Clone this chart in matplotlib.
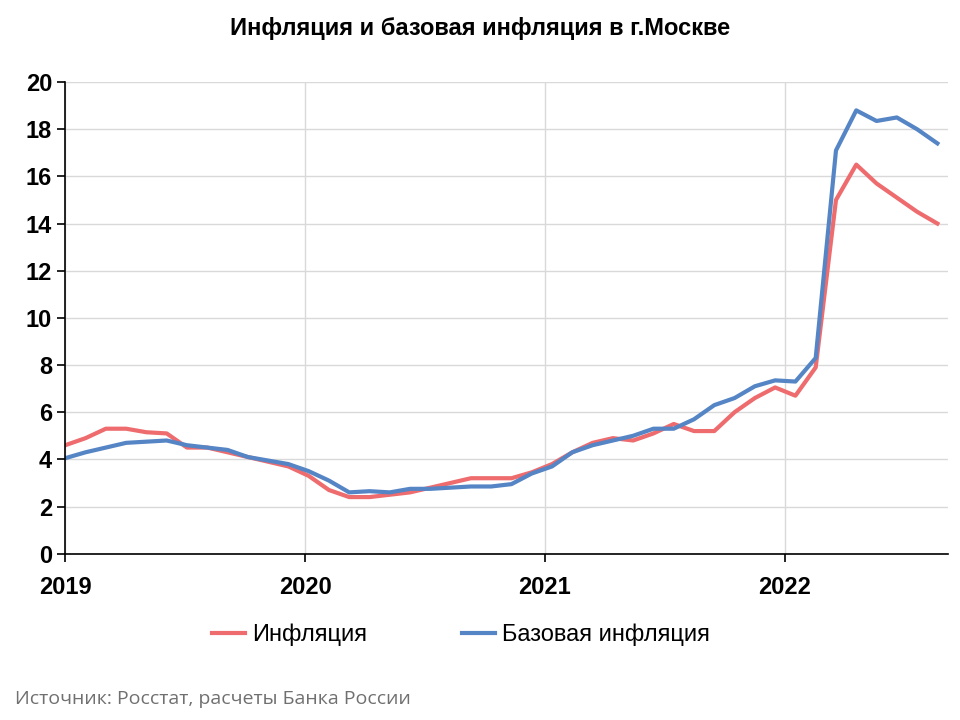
import matplotlib
matplotlib.use("Agg")
import matplotlib.pyplot as plt
import numpy as np

# monthly values, Jan 2019 - Aug 2022
inflation = [4.6, 4.9, 5.3, 5.3, 5.15, 5.1, 4.5, 4.5, 4.3, 4.1, 3.9, 3.7,
             3.3, 2.7, 2.4, 2.4, 2.5, 2.6, 2.8, 3.0, 3.2, 3.2, 3.2, 3.45,
             3.8, 4.3, 4.7, 4.9, 4.8, 5.1, 5.5, 5.2, 5.2, 6.0, 6.6, 7.05,
             6.7, 7.9, 15.0, 16.5, 15.7, 15.1, 14.5, 14.0]
core_inflation = [4.05, 4.3, 4.5, 4.7, 4.75, 4.8, 4.6, 4.5, 4.4, 4.1, 3.95, 3.8,
                  3.5, 3.1, 2.6, 2.65, 2.6, 2.75, 2.75, 2.8, 2.85, 2.85, 2.95, 3.4,
                  3.7, 4.3, 4.6, 4.8, 5.0, 5.3, 5.3, 5.7, 6.3, 6.6, 7.1, 7.35,
                  7.3, 8.3, 17.1, 18.8, 18.35, 18.5, 18.0, 17.4]
year_labels = ["2019", "2020", "2021", "2022"]
year_pos = [0, 12, 24, 36]

plt.rcParams["font.family"] = "Liberation Sans"

fig = plt.figure(figsize=(9.6, 7.2), dpi=100)
ax = fig.add_axes([0.068, 0.231, 0.92, 0.655])

x = np.arange(len(inflation)) * 1.015
ax.plot(x, inflation, color="#EE6B6E", lw=3, label="Инфляция", solid_joinstyle="round")
ax.plot(x, core_inflation, color="#5585C5", lw=3, label="Базовая инфляция", solid_joinstyle="round")

ax.set_xlim(0, 44.2)
ax.set_ylim(0, 20)
ax.set_yticks(range(0, 21, 2))
ax.set_xticks(year_pos)
ax.set_xticklabels(year_labels)
ax.grid(True, color="#D9D9D9", lw=1)
ax.set_axisbelow(True)
for s in ["top", "right"]:
    ax.spines[s].set_visible(False)
ax.spines["left"].set_linewidth(1.2)
ax.spines["bottom"].set_linewidth(1.2)
ax.tick_params(axis="both", labelsize=17, length=6, width=1.2, direction="out")
ax.tick_params(axis="x", pad=10)
for lab in ax.get_xticklabels() + ax.get_yticklabels():
    lab.set_fontweight("bold")

fig.text(0.5, 0.96, "Инфляция и базовая инфляция в г.Москве", ha="center",
         va="center", fontsize=17, fontweight="bold")
fig.legend(loc="center", bbox_to_anchor=(0.48, 0.118), ncol=2, frameon=False,
           fontsize=17, handlelength=1.4, handletextpad=0.3, columnspacing=4)
fig.text(0.016, 0.022, "Источник: Росстат, расчеты Банка России", fontsize=14,
         color="#707070", family="Open Sans")

fig.savefig("out.png")
